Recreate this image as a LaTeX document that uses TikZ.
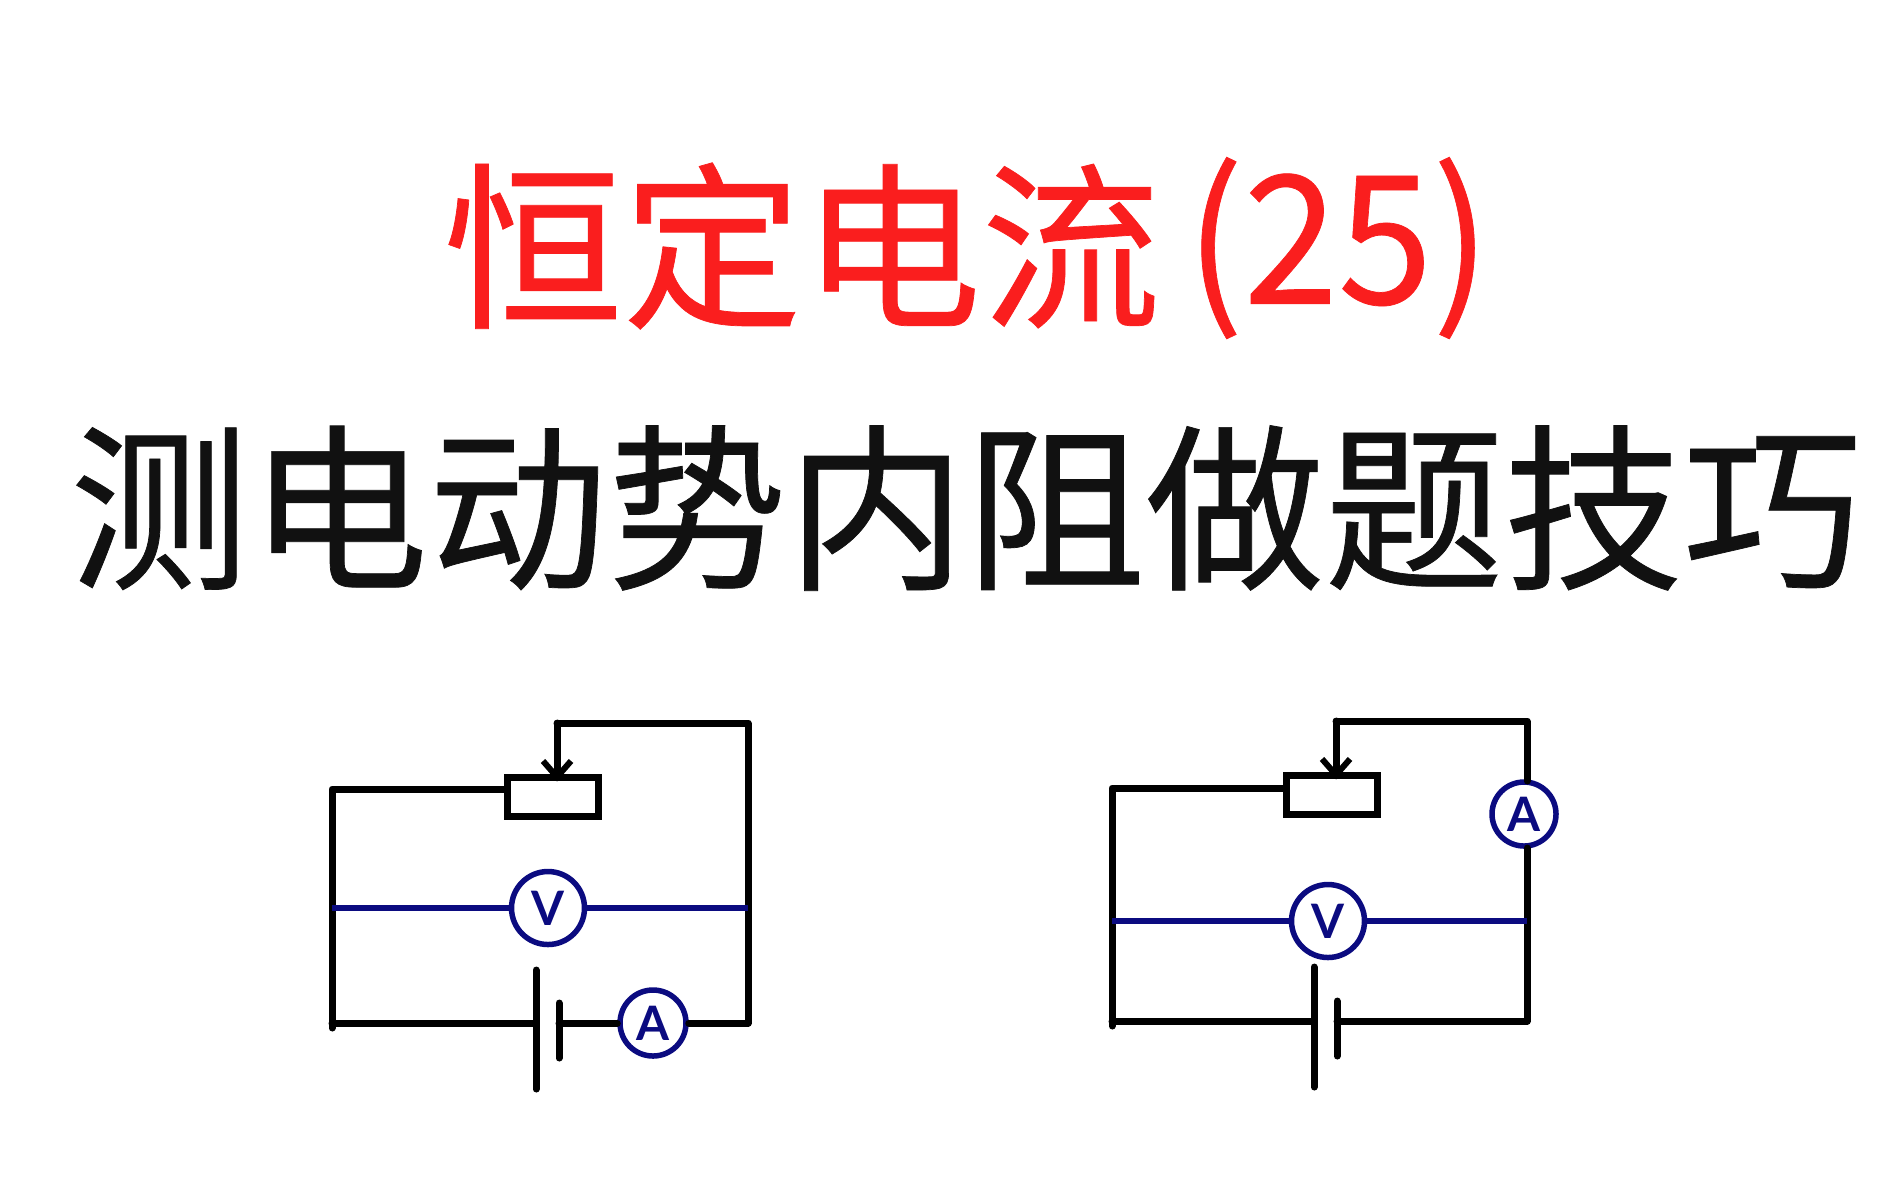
\documentclass[tikz,border=0pt]{standalone}
\usepackage{fontspec}
\setmainfont{Lato}
\newfontfamily\cjk[FakeBold=0.4]{Noto Sans CJK SC}
\usetikzlibrary{arrows.meta}
\definecolor{titlered}{HTML}{FA1E1E}
\definecolor{titleblack}{HTML}{111111}
\definecolor{meterblue}{HTML}{0B0B80}
\tikzset{
    headline/.style={inner sep=0pt,font=\cjk\fontsize{51}{51}\selectfont},
    meter/.style={draw=meterblue,text=meterblue,circle,line width=0.55mm,inner sep=0pt,font=\bfseries\fontsize{13.5}{13.5}\selectfont},
    wire/.style={line width=0.7mm,line cap=round,line join=round},
    vwire/.style={draw=meterblue,line width=0.6mm},
    slider/.style={wire,shorten >=-0.8mm,-{Straight Barb[length=1.6mm,width=2.8mm,line width=0.6mm]}},
    rheostat/.style={draw,line width=0.7mm,inner sep=0pt,minimum width=9.1mm,minimum height=3.9mm}
}
\begin{document}
\begin{tikzpicture}[x=0.1mm,y=-0.1mm]
    \useasboundingbox (0,0) rectangle (1890,1184);
    \node[headline,text=titlered] (title) at (802,246) {恒定电流};
    \node[headline,text=titlered] (number) at (1338,248) {\scalebox{0.95}[1]{(25)}};
    \node[headline,text=titleblack] (topic) at (966,508) {测电动势内阻做题技巧};
    % left circuit
    \node[rheostat] (R1) at (552.5,796.5) {};
    \node[meter,minimum size=7.3mm] (V1) at (548,908) {V};
    \node[meter,minimum size=6.6mm] (A1) at (653,1023) {A};
    \coordinate (a1) at (332,789);
    \coordinate (b1) at (332,1028);
    \coordinate (c1) at (332,908);
    \coordinate (d1) at (748,908);
    \coordinate (e1) at (748,1023);
    \coordinate (f1) at (748,723);
    \coordinate (g1) at (557,723);
    \coordinate (p1) at (536,1023);
    \coordinate (q1) at (559,1023);
    \draw[wire] (R1.west|-a1) -- (a1) -- (b1);
    \draw[wire] (332,1023) -- (p1);
    \draw[wire] (536,970) -- (536,1089);
    \draw[wire] (559,1003) -- (559,1058);
    \draw[wire] (q1) -- (A1.west);
    \draw[wire] (A1.east) -- (e1) -- (f1) -- (g1);
    \draw[slider] (g1) -- (g1|-R1.north);
    \draw[vwire] (c1) -- (V1.west);
    \draw[vwire] (V1.east) -- (d1);
    % right circuit
    \node[rheostat] (R2) at (1331.5,794.5) {};
    \node[meter,minimum size=7.3mm] (V2) at (1328,921) {V};
    \node[meter,minimum size=6.4mm] (A2) at (1524,814) {A};
    \coordinate (a2) at (1112,788);
    \coordinate (b2) at (1112,1026);
    \coordinate (c2) at (1112,921);
    \coordinate (d2) at (1527,921);
    \coordinate (e2) at (1527,1021);
    \coordinate (f2) at (1527,721);
    \coordinate (g2) at (1336,721);
    \coordinate (p2) at (1314,1021);
    \coordinate (q2) at (1337,1021);
    \draw[wire] (R2.west|-a2) -- (a2) -- (b2);
    \draw[wire] (1112,1021) -- (p2);
    \draw[wire] (1314,967) -- (1314,1087);
    \draw[wire] (1337,1001) -- (1337,1056);
    \draw[wire] (q2) -- (e2) -- (1527,848);
    \draw[wire] (1527,781) -- (f2) -- (g2);
    \draw[slider] (g2) -- (g2|-R2.north);
    \draw[vwire] (c2) -- (V2.west);
    \draw[vwire] (V2.east) -- (d2);
\end{tikzpicture}
\end{document}
